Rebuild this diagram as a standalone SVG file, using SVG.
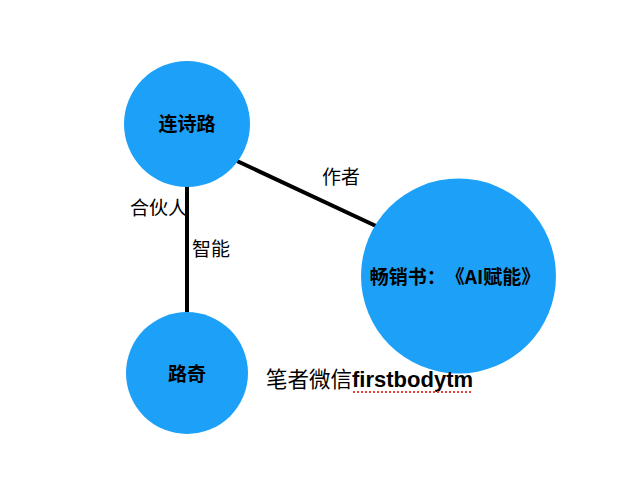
<svg xmlns="http://www.w3.org/2000/svg" width="628" height="500" viewBox="0 0 628 500">
<style>
.node{fill:#1da1f8}
.lbl{font-family:"Noto Sans CJK SC","Liberation Sans",sans-serif;font-size:19px;font-weight:bold;fill:#000;text-anchor:middle;dominant-baseline:central;text-spacing-trim:space-all}
.edge{stroke:#000;stroke-width:4;fill:none}
.el{font-family:"Noto Sans CJK SC","Liberation Sans",sans-serif;font-size:19px;fill:#000;dominant-baseline:central}
</style>
<rect width="628" height="500" fill="#fff"/>
<g id="connectors">
<line class="edge" x1="187" y1="186" x2="187" y2="312"/>
<line class="edge" x1="237" y1="161" x2="376" y2="226"/>
<text class="el" x="130" y="206">合伙人</text>
<text class="el" x="192" y="247">智能</text>
<text class="el" x="322" y="175">作者</text>
</g>
<g id="n1"><circle class="node" cx="187" cy="124" r="63"/><text class="lbl" x="187" y="122.5">连诗路</text></g>
<g id="n2"><circle class="node" cx="187" cy="373" r="61"/><text class="lbl" x="187" y="372">路奇</text></g>
<g id="n3"><circle class="node" cx="458.5" cy="276" r="97.5"/><text class="lbl" x="455" y="275">畅销书：《AI赋能》</text></g>
<g id="note">
<text x="266" y="387" style="font-family:'Noto Sans CJK SC',sans-serif;font-size:21.5px;fill:#000">笔者微信<tspan font-weight="bold" style="font-family:'Liberation Sans',sans-serif;font-size:22px">firstbodytm</tspan></text>
<line x1="353" y1="392" x2="472" y2="392" stroke="#e8413a" stroke-width="2" stroke-dasharray="2,2"/>
</g>
</svg>
